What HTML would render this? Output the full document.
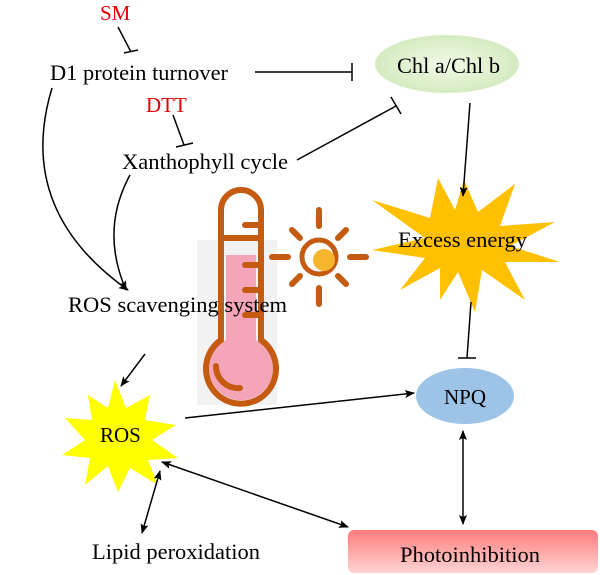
<!DOCTYPE html>
<html><head><meta charset="utf-8"><style>
html,body{margin:0;padding:0;background:#fff}
svg{display:block}
text{font-family:"Liberation Serif",serif;}
</style></head><body>
<svg width="600" height="575" viewBox="0 0 600 575" xmlns="http://www.w3.org/2000/svg">
<defs>
<radialGradient id="g1" cx="0.5" cy="0.5" r="0.6"><stop offset="0" stop-color="#f2f9e8"/><stop offset="1" stop-color="#cfe8b8"/></radialGradient>
<linearGradient id="g2" x1="0" y1="0" x2="0" y2="1"><stop offset="0" stop-color="#ff7c7c"/><stop offset="1" stop-color="#ffd4d4"/></linearGradient>
<marker id="ar" markerWidth="10" markerHeight="8" refX="9" refY="4" orient="auto" markerUnits="userSpaceOnUse"><path d="M0,0 L10,4 L0,8 L2,4 z" fill="#000"/></marker>
<marker id="as" markerWidth="10" markerHeight="8" refX="1" refY="4" orient="auto" markerUnits="userSpaceOnUse"><path d="M10,0 L0,4 L10,8 L8,4 z" fill="#000"/></marker>
</defs>
<ellipse cx="447" cy="64" rx="72" ry="29" fill="url(#g1)"/>
<ellipse cx="465" cy="396" rx="49" ry="28" fill="#9dc3e6"/>
<rect x="348" y="530" width="250" height="43" rx="6" fill="url(#g2)"/>
<polygon fill="#ffc000" points="464,180 478,212 515,184 500,226 555,222 510,246 560,262 505,262 525,300 482,270 475,312 458,272 440,300 440,268 400,290 425,258 372,250 425,238 372,200 430,218 438,178 455,210"/>
<polygon fill="#ffff00" points="115,380 126,408 150,395 145,420 176,425 152,440 178,458 148,460 158,485 130,468 118,492 108,466 85,485 90,458 62,455 85,440 65,418 92,420 88,395 108,408"/>
<g stroke="#000" stroke-width="1.5" fill="none">
<line x1="118" y1="27" x2="131" y2="52"/><line x1="124" y1="53" x2="138" y2="50"/>
<line x1="255" y1="72" x2="352" y2="72"/><line x1="352" y1="63" x2="352" y2="81"/>
<line x1="173" y1="115" x2="184" y2="145"/><line x1="176" y1="147" x2="193" y2="143"/>
<line x1="297" y1="160" x2="396" y2="106"/><line x1="391" y1="97" x2="401" y2="114"/>
<line x1="470" y1="103" x2="463" y2="196" marker-end="url(#ar)"/>
<line x1="471" y1="302" x2="467" y2="358"/><line x1="458" y1="358" x2="476" y2="358"/>
<path d="M52,88 Q15,210 128,290" marker-end="url(#ar)"/>
<path d="M130,175 Q100,230 126,290" marker-end="url(#ar)"/>
<line x1="145" y1="354" x2="121" y2="386" marker-end="url(#ar)"/>
<line x1="185" y1="418" x2="414" y2="393" marker-end="url(#ar)"/>
<line x1="463" y1="431" x2="463" y2="524" marker-start="url(#as)" marker-end="url(#ar)"/>
<line x1="162" y1="462" x2="348" y2="527" marker-start="url(#as)" marker-end="url(#ar)"/>
<line x1="160" y1="471" x2="142" y2="533" marker-start="url(#as)" marker-end="url(#ar)"/>
</g>
<rect x="197" y="240" width="80" height="165" fill="#f2f2f2"/>
<path d="M226,255 H256 V340 A32,32 0 1 1 226,340 Z" fill="#f4a6b8"/>
<g stroke="#c55a11" stroke-width="6" fill="none" stroke-linecap="round">
<path d="M221,340 V210 a20,20 0 0 1 40,0 V340"/>
<path d="M221,340 A35,35 0 1 0 261,340"/>
<line x1="221" y1="238" x2="261" y2="238"/>
<line x1="245" y1="225" x2="261" y2="225"/><line x1="245" y1="265" x2="261" y2="265"/><line x1="245" y1="290" x2="261" y2="290"/><line x1="245" y1="315" x2="261" y2="315"/>
<path d="M216,366 A22,22 0 0 0 240,388"/>
<circle cx="319" cy="257" r="17" stroke-width="5"/>
<line x1="319" y1="210" x2="319" y2="226"/><line x1="319" y1="288" x2="319" y2="304"/>
<line x1="272" y1="257" x2="288" y2="257"/><line x1="350" y1="257" x2="366" y2="257"/>
<line x1="292" y1="230" x2="300" y2="238"/><line x1="338" y1="276" x2="346" y2="284"/>
<line x1="346" y1="230" x2="338" y2="238"/><line x1="300" y1="276" x2="292" y2="284"/>
</g>
<circle cx="324" cy="260" r="11" fill="#f5b52e"/>
<g font-size="22" fill="#000">
<text x="100" y="20" fill="#e00000" font-size="21">SM</text>
<text x="50" y="80" textLength="178" lengthAdjust="spacingAndGlyphs">D1 protein turnover</text>
<text x="397" y="73" textLength="103" lengthAdjust="spacingAndGlyphs">Chl a/Chl b</text>
<text x="146" y="112" fill="#e00000" font-size="21">DTT</text>
<text x="122" y="169" textLength="166" lengthAdjust="spacingAndGlyphs">Xanthophyll cycle</text>
<text x="398" y="247" textLength="129" lengthAdjust="spacingAndGlyphs">Excess energy</text>
<text x="68" y="312" textLength="219" lengthAdjust="spacingAndGlyphs">ROS scavenging system</text>
<text x="444" y="404" font-size="21">NPQ</text>
<text x="100" y="442" font-size="21">ROS</text>
<text x="92" y="559" textLength="168" lengthAdjust="spacingAndGlyphs">Lipid peroxidation</text>
<text x="400" y="562" textLength="140" lengthAdjust="spacingAndGlyphs">Photoinhibition</text>
</g>
</svg>
</body></html>
